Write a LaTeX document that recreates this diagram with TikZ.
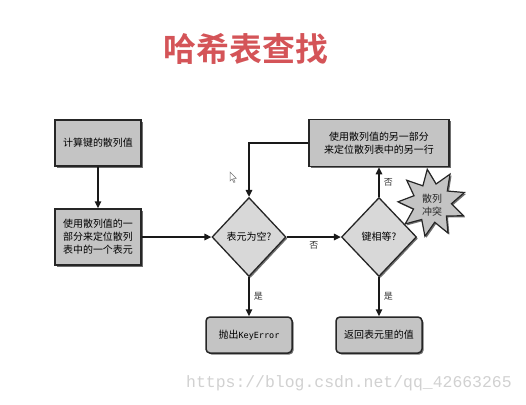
\documentclass[tikz,border=0pt]{standalone}
\usepackage{fontspec}
\newfontfamily\cjk{Noto Sans CJK SC}
\newfontfamily\cjkbold{Noto Sans CJK SC Bold}
\newfontfamily\monofont{DejaVu Sans Mono}
\newfontfamily\wmfont{Liberation Mono}
\usetikzlibrary{shapes.geometric,arrows.meta,shadows}
\definecolor{titlered}{HTML}{D45458}
\definecolor{boxfill}{HTML}{C4C4C4}
\definecolor{diafill}{HTML}{D8D8D8}
\tikzset{
  x=1bp, y=-1bp,
  boxshadow/.style={drop shadow={shadow xshift=1.5bp, shadow yshift=-1.5bp, fill=black!70, opacity=0.8}},
  procbox/.style={draw=black!85, line width=1.5bp, fill=boxfill, boxshadow, align=center,
     font=\cjk\fontsize{10}{13}\selectfont, inner sep=2bp},
  endbox/.style={procbox, rounded corners=4bp},
  decision/.style={diamond, draw=black!85, line width=1.3bp, fill=diafill, boxshadow, inner sep=0pt,
     font=\cjk\fontsize{10}{13}\selectfont},
  burst/.style={star, star points=9, star point ratio=1.75, draw=black!85, line width=1.2bp, fill=boxfill,
     boxshadow, inner sep=0pt, align=center, font=\cjk\fontsize{10}{13}\selectfont},
  conn/.style={line width=1.5bp, draw=black!90, -{Triangle[width=6.5bp,length=7bp]}},
  lbl/.style={font=\cjk\fontsize{9}{11}\selectfont, text=black!80, inner sep=1bp}
}
\begin{document}
\begin{tikzpicture}
\useasboundingbox (0,0) rectangle (526,404);
\fill[white] (0,0) rectangle (526,404);
\node[text=titlered, font=\cjkbold\fontsize{33}{36}\selectfont] (title) at (246,49) {哈希表查找};

\node[procbox, minimum width=86bp, minimum height=46bp] (hash) at (98,143) {计算键的散列值};
\node[procbox, minimum width=86bp, minimum height=56bp] (locate) at (98,237) {使用散列值的一\\部分来定位散列\\表中的一个表元};
\node[decision, minimum width=74bp, minimum height=79bp] (empty) at (249,237) {表元为空?};
\node[procbox, minimum width=140bp, minimum height=47bp] (next) at (379,143) {使用散列值的另一部分\\来定位散列表中的另一行};
\node[decision, minimum width=75bp, minimum height=79bp] (eq) at (379,237) {键相等?};
\node[burst, minimum size=68bp, rotate=8] (coll) at (432,203) {};
\node[font=\cjk\fontsize{10}{13}\selectfont, align=center, text=black!85] (colltxt) at (432,205) {散列\\冲突};
\node[endbox, minimum width=86bp, minimum height=36bp] (err) at (249,335) {抛出{\monofont\fontsize{8.5}{10}\selectfont KeyError}};
\node[endbox, minimum width=86bp, minimum height=36bp] (ret) at (379,335) {返回表元里的值};

\draw[conn] (hash) -- (locate);
\draw[conn] (locate) -- (empty);
\draw[conn] (empty) -- node[lbl, below=3bp] (no1) {否} (eq);
\draw[conn] (eq) -- node[lbl, right=3bp] (no2) {否} (next);
\draw[conn] (next.west) -| (empty.north);
\draw[conn] (empty) -- node[lbl, right=3bp] (yes1) {是} (err);
\draw[conn] (eq) -- node[lbl, right=3bp] (yes2) {是} (ret);

\node[text=black!18, font=\wmfont\fontsize{16.5}{18}\selectfont, anchor=west, inner sep=0pt] (wm) at (186,383) {https://blog.csdn.net/qq\_42663265};

% mouse cursor
\draw[black!55, fill=white, line width=0.5bp] (230,172) -- (230,181) -- (232.2,179) -- (233.8,182.5) -- (235,182) -- (233.5,178.6) -- (236.3,178.4) -- cycle;
\end{tikzpicture}
\end{document}
